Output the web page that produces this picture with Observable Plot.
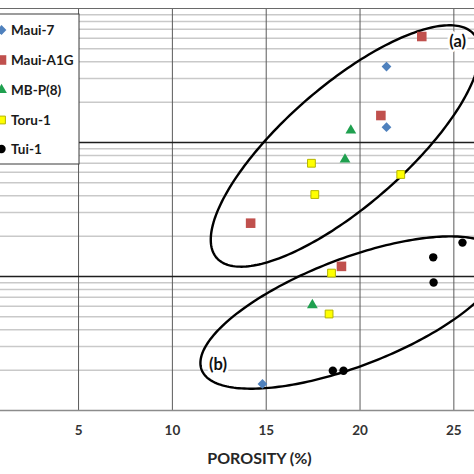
<!DOCTYPE html>
<html>
<head>
<meta charset="utf-8">
<script src="https://cdn.jsdelivr.net/npm/d3@7"></script>
<script src="https://cdn.jsdelivr.net/npm/@observablehq/plot@0.6"></script>
<style>
  html, body { margin: 0; padding: 0; background: #fff; }
  #chart { width: 474px; height: 474px; overflow: hidden; }
</style>
</head>
<body>
<div id="chart"></div>
<script>
// ---- data (porosity %, permeability) ----
const seriesNames = ["Maui-7", "Maui-A1G", "MB-P(8)", "Toru-1", "Tui-1"];
const maui7Porosity   = [21.41, 21.41, 14.80];
const maui7Perm       = [369, 130, 1.58];
const mauiA1GPorosity = [23.29, 21.11, 14.17, 19.01];
const mauiA1GPerm     = [618, 159, 25.0, 11.9];
const mbp8Porosity    = [19.51, 19.20, 17.46];
const mbp8Perm        = [123, 74.7, 6.12];
const toru1Porosity   = [17.41, 22.17, 17.59, 18.48, 18.35];
const toru1Perm       = [70.0, 57.7, 40.9, 10.6, 5.25];
const tui1Porosity    = [25.46, 23.90, 23.92, 18.55, 19.12];
const tui1Perm        = [17.9, 13.9, 9.02, 1.98, 1.98];

const xTicks = [5, 10, 15, 20, 25];
const yMajor = [10, 100];
const yMinor = [2,3,4,5,6,7,8,9,20,30,40,50,60,70,80,90,200,300,400,500,600,700,800,900];

// ellipse annotations: centre (porosity, log10 perm) and two semi-axis vectors (porosity, decades)
const ellipseNames = ["(a)", "(b)"];
const ellipseCx  = [19.21, 19.51];
const ellipseCly = [1.974, 0.731];
const ellipseAx  = [6.85, 7.95];
const ellipseAy  = [0.835, 0.428];
const ellipseBx  = [2.10, 1.03];
const ellipseBy  = [-0.338, -0.374];
const labelPorosity = [25.2, 12.43];
const labelPerm     = [561, 2.19];

// ---- build tables ----
const styles = {
  "Maui-7":   {symbol: "diamond2", fill: "#4F81BD", stroke: "none", r: 4.4},
  "Maui-A1G": {symbol: "square",   fill: "#C0504D", stroke: "none", r: 5.4},
  "MB-P(8)":  {symbol: "triangle", fill: "#1FA04F", stroke: "none", r: 4.0},
  "Toru-1":   {symbol: "square",   fill: "#FFFF00", stroke: "#B5B500", r: 4.4},
  "Tui-1":    {symbol: "circle",   fill: "#000000", stroke: "none", r: 4.2}
};
const seriesData = {
  "Maui-7":   [maui7Porosity, maui7Perm],
  "Maui-A1G": [mauiA1GPorosity, mauiA1GPerm],
  "MB-P(8)":  [mbp8Porosity, mbp8Perm],
  "Toru-1":   [toru1Porosity, toru1Perm],
  "Tui-1":    [tui1Porosity, tui1Perm]
};
const tables = seriesNames.map(name => {
  const [px, py] = seriesData[name];
  return px.map((p, i) => ({series: name, porosity: p, perm: py[i]}));
});

const ellipsePts = [];
ellipseNames.forEach((nm, k) => {
  const n = 240;
  for (let i = 0; i <= n; i++) {
    const t = (i / n) * 2 * Math.PI;
    const c = Math.cos(t), s = Math.sin(t);
    ellipsePts.push({
      e: nm,
      porosity: ellipseCx[k] + ellipseAx[k] * c + ellipseBx[k] * s,
      perm: Math.pow(10, ellipseCly[k] + ellipseAy[k] * c + ellipseBy[k] * s)
    });
  }
});
const labels = ellipseNames.map((t, i) => ({t, porosity: labelPorosity[i], perm: labelPerm[i]}));

const font = "Lato, 'Open Sans', 'DejaVu Sans', sans-serif";

const plot = Plot.plot({
  width: 474,
  height: 474,
  marginTop: 8,
  marginBottom: 64,
  marginLeft: 0,
  marginRight: 0,
  style: {fontFamily: font, background: "white"},
  x: {domain: [0.84, 26.1], axis: null},
  y: {type: "log", domain: [1, 1000], axis: null},
  marks: [
    Plot.ruleY(yMinor, {stroke: "#c9c9c9", strokeWidth: 1.5}),
    Plot.ruleX(xTicks, {stroke: "#5a5a5a", strokeWidth: 1}),
    Plot.ruleY(yMajor, {stroke: "#1e1e1e", strokeWidth: 1.6}),
    Plot.ruleY([1000], {stroke: "#6a6a6a", strokeWidth: 1.2}),
    Plot.ruleY([1], {stroke: "#8c8c8c", strokeWidth: 1.5}),
    Plot.line(ellipsePts, {x: "porosity", y: "perm", z: "e", stroke: "#000", strokeWidth: 2.4, curve: "linear"}),
    ...tables.map(tb => {
      const st = styles[tb[0].series];
      return Plot.dot(tb, {x: "porosity", y: "perm", symbol: () => st.symbol, r: st.r,
        fill: st.fill, stroke: st.stroke, strokeWidth: 1});
    }),
    Plot.text(labels, {x: "porosity", y: "perm", text: "t", fontSize: 16.5, fontWeight: "bold",
      fill: "#111", stroke: "white", strokeWidth: 5, paintOrder: "stroke"}),
    Plot.axisX(xTicks, {tickSize: 0, tickPadding: 15, fontSize: 13.5, fontWeight: "bold", fill: "#333", label: null}),
    Plot.text(["POROSITY (%)"], {frameAnchor: "bottom", dy: 53, dx: 22, fontSize: 16, fontWeight: "bold", fill: "#262626"})
  ]
});

// legend box (inside the plot, partly cut by the left edge)
const svg = d3.select(plot);
const lg = svg.append("g").attr("font-family", font).attr("text-anchor", "start");
lg.append("rect").attr("x", -3).attr("y", 14).attr("width", 82).attr("height", 150)
  .attr("fill", "white").attr("stroke", "#3a3a3a").attr("stroke-width", 1);
const symMap = {diamond2: d3.symbolDiamond2, square: d3.symbolSquare, triangle: d3.symbolTriangle, circle: d3.symbolCircle};
const legendY = [30, 60, 90, 120, 149];
seriesNames.forEach((name, i) => {
  const st = styles[name];
  lg.append("path")
    .attr("d", d3.symbol(symMap[st.symbol], Math.PI * st.r * st.r)())
    .attr("transform", `translate(1.5,${legendY[i]})`)
    .attr("fill", st.fill).attr("stroke", st.stroke).attr("stroke-width", 1);
  lg.append("text").attr("x", 11).attr("y", legendY[i]).attr("dy", "0.35em")
    .attr("text-anchor", "start")
    .attr("font-size", 13.5).attr("font-weight", "bold").attr("fill", "#1a1a1a").text(name);
});

document.getElementById("chart").appendChild(plot);
</script>
</body>
</html>
